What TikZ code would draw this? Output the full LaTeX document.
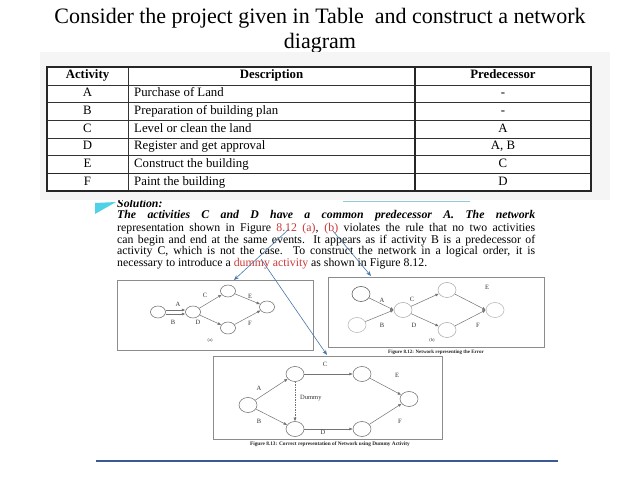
\documentclass[tikz,border=0pt]{standalone}
\usepackage{fontspec}
\setmainfont{Liberation Serif}
\usetikzlibrary{arrows.meta,shapes.geometric}
\definecolor{redtxt}{RGB}{205,55,55}
\definecolor{annblue}{RGB}{70,120,170}
\definecolor{rulblue}{RGB}{60,90,150}
\definecolor{cyanwedge}{RGB}{80,210,230}
\definecolor{tealfaint}{RGB}{140,205,215}
\tikzset{
  tline/.style={line width=0.7pt, draw=black!80},
  touter/.style={line width=1.3pt, draw=black!85},
  th/.style={font=\fontsize{12.8}{13}\selectfont\bfseries, inner sep=0pt, text height=8.8pt, text depth=2.8pt},
  td/.style={font=\fontsize{12.8}{13}\selectfont, inner sep=0pt, text height=8.8pt, text depth=2.8pt},
  para/.style={anchor=base west, inner sep=0pt, font=\fontsize{11.8}{12}\selectfont},
  evs/.style={draw=black!60, ellipse, minimum width=15pt, minimum height=12pt, inner sep=0pt, line width=0.5pt},
  evl/.style={draw=black!60, ellipse, minimum width=18pt, minimum height=15pt, inner sep=0pt, line width=0.5pt},
  act/.style={draw=black!55, line width=0.5pt, -{Latex[length=3.5pt,width=3pt]}},
  lab/.style={font=\fontsize{6.5}{7}\selectfont, inner sep=0pt, text=black!80},
  figbox/.style={draw=black!45, line width=0.6pt},
  figcap/.style={font=\fontsize{5}{6}\selectfont\bfseries, inner sep=0pt, text=black!85},
  ann/.style={draw=annblue, line width=0.6pt, -{Stealth[length=5pt,width=4pt]}}
}
\begin{document}
\begin{tikzpicture}[x=1pt,y=-1pt]
\useasboundingbox (0,0) rectangle (638,478);
\fill[white] (0,0) rectangle (638,478);

% title
\node[font=\fontsize{22}{24}\selectfont, inner sep=0pt] (t1) at (320,18) {Consider the project given in Table\ \ and construct a network};
\node[font=\fontsize{22}{24}\selectfont, inner sep=0pt] (t2) at (320,43) {diagram};

% solution heading (top partly hidden under panel)
\node[para, font=\fontsize{11.8}{12}\selectfont\bfseries\itshape] (sol) at (117,207.5) {Solution:};

% table panel
\fill[black!4] (40,52) rectangle (610,200);
\fill[white] (47,67) rectangle (591,191);

% table grid
\foreach \y in {85,102.7,120.3,138,155.7}{ \draw[tline] (47,\y) -- (591,\y); }
\draw[line width=1.1pt, draw=black!85] (47,173.3) -- (591,173.3);
\draw[tline] (128,67) -- (128,191);
\draw[line width=1.1pt, draw=black!85] (415,67) -- (415,191);
\draw[touter] (47,67) rectangle (591,191);

\node[th] (h1) at (87.5,76) {Activity};
\node[th] (h2) at (271.5,76) {Description};
\node[th] (h3) at (503,76) {Predecessor};

\node[td] (ra) at (87.5,94) {A};
\node[td] (rb) at (87.5,111.5) {B};
\node[td] (rc) at (87.5,129.2) {C};
\node[td] (rd) at (87.5,146.9) {D};
\node[td] (re) at (87.5,164.5) {E};
\node[td] (rf) at (87.5,182.2) {F};

\node[td, anchor=west] (da) at (134,94) {Purchase of Land};
\node[td, anchor=west] (db) at (134,111.5) {Preparation of building plan};
\node[td, anchor=west] (dc) at (134,129.2) {Level or clean the land};
\node[td, anchor=west] (dd) at (134,146.9) {Register and get approval};
\node[td, anchor=west] (de) at (134,164.5) {Construct the building};
\node[td, anchor=west] (df) at (134,182.2) {Paint the building};

\node[td] (pa) at (503,94) {-};
\node[td] (pb) at (503,111.5) {-};
\node[td] (pc) at (503,129.2) {A};
\node[td] (pd) at (503,146.9) {A, B};
\node[td] (pe) at (503,164.5) {C};
\node[td] (pf) at (503,182.2) {D};

% decorations near solution
\fill[cyanwedge] (95,203) -- (116,202) -- (95,214) -- cycle;
\draw[tealfaint, line width=1.2pt] (343,201.5) -- (470,201.5);

% paragraph
\node[para] (p1) at (117,219) {\makebox[418pt][s]{\bfseries\itshape The activities C and D have a common predecessor A. The network}};
\node[para] (p2) at (117,231.2) {\makebox[418pt][s]{representation shown in Figure \textcolor{redtxt}{8.12 (a)}, \textcolor{redtxt}{(b)} violates the rule that no two activities}};
\node[para] (p3) at (117,243.2) {\makebox[418pt][s]{can begin and end at the same events. It appears as if activity B is a predecessor of}};
\node[para] (p4) at (117,255) {\makebox[418pt][s]{activity C, which is not the case. To construct the network in a logical order, it is}};
\node[para] (p5) at (117,266.8) {necessary to introduce a \textcolor{redtxt}{dummy activity} as shown in Figure 8.12.};

% ---------- figure (a) ----------
\draw[figbox] (117,280) rectangle (313,350);
\node[evs] (a1) at (158,312) {};
\node[evs] (a2) at (193,312) {};
\node[evs] (a3) at (228,291) {};
\node[evs] (a4) at (228,328) {};
\node[evs] (a5) at (267,307) {};
\draw[act] ([yshift=2pt]a1.east) -- ([yshift=2pt]a2.west);
\draw[act] ([yshift=-2pt]a1.east) -- ([yshift=-2pt]a2.west);
\draw[act] (a2) -- (a3);
\draw[act] (a2) -- (a4);
\draw[act] (a3) -- (a5);
\draw[act] (a4) -- (a5);
\node[lab] (la) at (178,304.5) {A};
\node[lab] (lb) at (173,322) {B};
\node[lab] (lc) at (205,295) {C};
\node[lab] (ld) at (198,322) {D};
\node[lab] (le) at (250,296) {E};
\node[lab] (lf) at (250,323) {F};
\node[lab, font=\fontsize{4.5}{5}\selectfont] (lfa) at (210,340) {(a)};

% ---------- figure (b) ----------
\draw[figbox] (328,277) rectangle (544,347);
\node[evl, draw=black!70] (b1) at (361,294) {};
\node[evl, draw=black!30] (b2) at (357,325) {};
\node[evl, draw=black!35] (b3) at (403,310) {};
\node[evl, draw=black!35] (b4) at (447,290) {};
\node[evl, draw=black!35] (b5) at (447,330) {};
\node[evl, draw=black!30] (b6) at (495,310) {};
\draw[act] (b1) -- (b3.west);
\draw[act] (b2) -- (b3.west);
\draw[act] (b3) -- (b4);
\draw[act] (b3) -- (b5);
\draw[act] (b4) -- (b6.west);
\draw[act] (b5) -- (b6.west);
\node[lab] (lba) at (382,300) {A};
\node[lab] (lbb) at (382,325) {B};
\node[lab] (lbc) at (412,299) {C};
\node[lab] (lbd) at (414,325) {D};
\node[lab] (lbe) at (487,287) {E};
\node[lab] (lbf) at (478,325) {F};
\node[lab, font=\fontsize{4.5}{5}\selectfont] (lfb) at (432,340) {(b)};
\node[figcap] (cb) at (436,352) {Figure 8.12: Network representing the Error};

% ---------- figure 8.13 ----------
\draw[figbox] (213,356) rectangle (442,439);
\node[evl] (c1) at (248,405) {};
\node[evl] (c2) at (295,374) {};
\node[evl] (c3) at (295,429) {};
\node[evl] (c4) at (362,374) {};
\node[evl] (c5) at (362,429) {};
\node[evl] (c6) at (409,399) {};
\draw[act] (c1) -- (c2);
\draw[act] (c1) -- (c3);
\draw[act] (c2) -- (c4);
\draw[act] (c3) -- (c5);
\draw[act] (c4) -- (c6);
\draw[act] (c5) -- (c6);
\draw[act, dashed, dash pattern=on 1.5pt off 1pt] (c2) -- (c3);
\node[lab] (lca) at (259,388) {A};
\node[lab] (lcb) at (259,421) {B};
\node[lab] (lcc) at (325,364) {C};
\node[lab] (lcd) at (323,432) {D};
\node[lab] (lce) at (397,375) {E};
\node[lab] (lcf) at (400,421) {F};
\node[lab, anchor=west] (ldum) at (300,398) {Dummy};
\node[figcap, font=\fontsize{5.3}{6}\selectfont\bfseries] (cc) at (330,444) {Figure 8.13: Correct representation of Network using Dummy Activity};

% annotation arrows
\coordinate (s1) at (289,229);
\coordinate (e1) at (234,280);
\coordinate (s2) at (333,231);
\coordinate (e2) at (371,276);
\coordinate (s3) at (261,259);
\coordinate (e3) at (327,355);
\draw[ann] (s1) -- (e1);
\draw[ann] (s2) -- (e2);
\draw[ann] (s3) -- (e3);

% bottom rule
\draw[rulblue, line width=1.2pt] (96,461) -- (558,461);
\end{tikzpicture}
\end{document}
